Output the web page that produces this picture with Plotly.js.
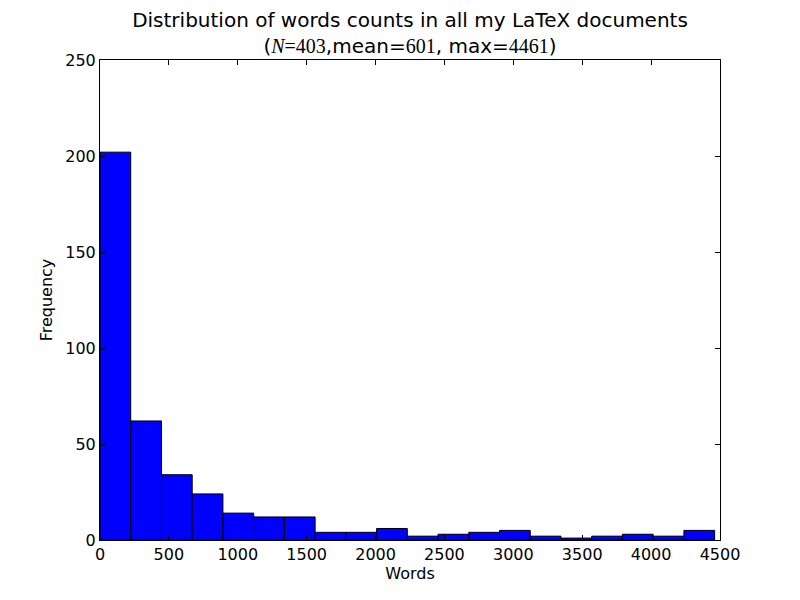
<!DOCTYPE html>
<html><head><meta charset="utf-8">
<script src="https://cdn.plot.ly/plotly-3.0.1.min.js"></script>
<style>body{margin:0;background:#fff}#c{width:800px;height:600px}</style>
</head><body><div id="c"></div>
<script>
const binStart = 0;
const binEnd = 4461;
const counts = [202, 62, 34, 24, 14, 12, 12, 4, 4, 6, 2, 3, 4, 5, 2, 1, 2, 3, 2, 5];
const xTicks = [0, 500, 1000, 1500, 2000, 2500, 3000, 3500, 4000, 4500];
const yTicks = [0, 50, 100, 150, 200, 250];

const w = (binEnd - binStart) / counts.length;
const centers = counts.map((c, i) => binStart + w * (i + 0.5));

const serif = "font-family:'Liberation Serif'";
const titleText = "Distribution of words counts in all my LaTeX documents<br>(" +
  "<span style=\"" + serif + ";font-style:italic\">N</span><span style=\"" + serif + "\">=403</span>,mean=<span style=\"" + serif + "\">601</span>, max=<span style=\"" + serif + "\">4461</span>)";

const axisCommon = {
  showline: true, mirror: 'ticks', linecolor: '#000', linewidth: 1,
  ticks: 'inside', ticklen: 5, tickcolor: '#000', tickwidth: 1,
  showgrid: false, zeroline: false,
  tickfont: {family: 'DejaVu Sans', size: 16, color: '#000'}
};

Plotly.newPlot('c', [{
  type: 'bar', x: centers, y: counts, width: w,
  marker: {color: '#0000ff', line: {color: '#000', width: 1}},
  hoverinfo: 'skip'
}], {
  width: 800, height: 600,
  margin: {l: 100, r: 80, t: 60, b: 60},
  paper_bgcolor: '#fff', plot_bgcolor: '#fff',
  showlegend: false,
  bargap: 0,
  title: {text: titleText, x: 0.5, xanchor: 'center', xref: 'paper', yref: 'paper', y: 1, yanchor: 'bottom',
          pad: {b: 33},
          font: {family: 'DejaVu Sans', size: 20, color: '#000'}},
  xaxis: Object.assign({}, axisCommon, {
    range: [0, 4500], tickvals: xTicks, ticktext: xTicks.map(String),
    title: {text: 'Words', font: {family: 'DejaVu Sans', size: 16, color: '#000'}, standoff: 2}
  }),
  yaxis: Object.assign({}, axisCommon, {
    range: [0, 250], tickvals: yTicks, ticktext: yTicks.map(String),
    title: {text: 'Frequency', font: {family: 'DejaVu Sans', size: 16, color: '#000'}, standoff: 8}
  })
}, {staticPlot: true});
</script></body></html>
